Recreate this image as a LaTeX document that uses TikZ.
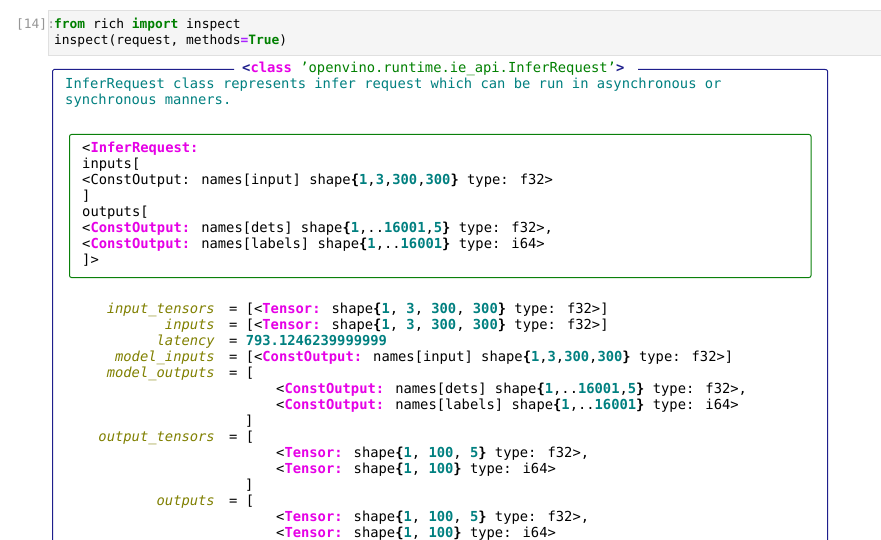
\documentclass[tikz,border=0pt]{standalone}
\usepackage{fontspec}
\setmonofont{DejaVu Sans Mono}
\setmainfont{DejaVu Sans Mono}
\definecolor{mag}{RGB}{230,0,230}
\definecolor{tl}{RGB}{0,128,128}
\definecolor{olv}{RGB}{128,128,0}
\definecolor{gbox}{RGB}{10,128,10}
\definecolor{nbox}{RGB}{30,30,140}
\definecolor{kw}{RGB}{0,128,0}
\definecolor{eqc}{RGB}{170,34,255}
\newcommand{\Mg}[1]{\textcolor{mag}{\bfseries #1}}
\newcommand{\Nm}[1]{\textcolor{tl}{\bfseries #1}}
\newcommand{\Bd}[1]{{\bfseries #1}}
\newcommand{\Lb}[1]{\textcolor{olv}{\itshape #1}}
\begin{document}
\begin{tikzpicture}[x=1pt,y=-1pt,
  otxt/.style={anchor=base west,inner sep=0pt,font=\fontsize{13.8}{16}\selectfont},
  ltxt/.style={anchor=base east,inner sep=0pt,font=\fontsize{13.8}{16}\selectfont},
  ctxt/.style={anchor=base west,inner sep=0pt,font=\fontsize{12.9}{16}\selectfont}]
\useasboundingbox (0,0) rectangle (881,540);
\fill[white] (0,0) rectangle (881,540);
% input cell
\draw[fill={rgb,255:red,245;green,245;blue,245},draw={rgb,255:red,224;green,224;blue,224}] (48,10) rectangle (885,55);
\node[ctxt,text={rgb,255:red,150;green,150;blue,150}] (prompt) at (16,29) {[14]:};
\node[ctxt] (c1) at (54,29) {\textcolor{kw}{\bfseries from} rich \textcolor{kw}{\bfseries import} inspect};
\node[ctxt] (c2) at (54,45) {inspect(request, methods\textcolor{eqc}{\bfseries =}\textcolor{kw}{\bfseries True})};
% outer box
\node[otxt] (title) at (242,73) {\textcolor{nbox}{\bfseries<}\Mg{class} \textcolor{kw}{'openvino.runtime.ie\_api.InferRequest'}\textcolor{nbox}{\bfseries>}};
\draw[nbox,line width=1pt] (234,69.5) -- (54,69.5) to[out=180,in=90] (52.5,71) -- (52.5,545);
\draw[nbox,line width=1pt] (638,69.5) -- (825,69.5) to[out=0,in=90] (827.5,71) -- (827.5,545);
\node[otxt,text=tl] (d1) at (65,89) {InferRequest class represents infer request which can be run in asynchronous or};
\node[otxt,text=tl] (d2) at (65,105) {synchronous manners.};
% green box
\draw[gbox,line width=1pt,rounded corners=2pt] (69.5,134.5) rectangle (811,277.5);
\node[otxt] (g1) at (82,153) {<\Mg{InferRequest:}};
\node[otxt] (g2) at (82,169) {inputs[};
\node[otxt] (g3) at (82,185) {<ConstOutput: names[input] shape\Bd{\{}\Nm{1},\Nm{3},\Nm{300},\Nm{300}\Bd{\}} type: f32>};
\node[otxt] (g4) at (82,201) {]};
\node[otxt] (g5) at (82,217) {outputs[};
\node[otxt] (g6) at (82,233) {<\Mg{ConstOutput:} names[dets] shape\Bd{\{}\Nm{1},..\Nm{16001},\Nm{5}\Bd{\}} type: f32>,};
\node[otxt] (g7) at (82,249) {<\Mg{ConstOutput:} names[labels] shape\Bd{\{}\Nm{1},..\Nm{16001}\Bd{\}} type: i64>};
\node[otxt] (g8) at (82,265) {]>};
% attributes
\node[ltxt] (l1) at (215,313) {\Lb{input\_tensors}};
\node[otxt] (v1) at (229,313) {= [<\Mg{Tensor:} shape\Bd{\{}\Nm{1}, \Nm{3}, \Nm{300}, \Nm{300}\Bd{\}} type: f32>]};
\node[ltxt] (l2) at (215,329) {\Lb{inputs}};
\node[otxt] (v2) at (229,329) {= [<\Mg{Tensor:} shape\Bd{\{}\Nm{1}, \Nm{3}, \Nm{300}, \Nm{300}\Bd{\}} type: f32>]};
\node[ltxt] (l3) at (215,345) {\Lb{latency}};
\node[otxt] (v3) at (229,345) {= \Nm{793.1246239999999}};
\node[ltxt] (l4) at (215,361) {\Lb{model\_inputs}};
\node[otxt] (v4) at (229,361) {= [<\Mg{ConstOutput:} names[input] shape\Bd{\{}\Nm{1},\Nm{3},\Nm{300},\Nm{300}\Bd{\}} type: f32>]};
\node[ltxt] (l5) at (215,377) {\Lb{model\_outputs}};
\node[otxt] (v5) at (229,377) {= [};
\node[otxt] (v6) at (276,393) {<\Mg{ConstOutput:} names[dets] shape\Bd{\{}\Nm{1},..\Nm{16001},\Nm{5}\Bd{\}} type: f32>,};
\node[otxt] (v7) at (276,409) {<\Mg{ConstOutput:} names[labels] shape\Bd{\{}\Nm{1},..\Nm{16001}\Bd{\}} type: i64>};
\node[otxt] (v8) at (245,425) {]};
\node[ltxt] (l6) at (215,441) {\Lb{output\_tensors}};
\node[otxt] (v9) at (229,441) {= [};
\node[otxt] (v10) at (276,457) {<\Mg{Tensor:} shape\Bd{\{}\Nm{1}, \Nm{100}, \Nm{5}\Bd{\}} type: f32>,};
\node[otxt] (v11) at (276,473) {<\Mg{Tensor:} shape\Bd{\{}\Nm{1}, \Nm{100}\Bd{\}} type: i64>};
\node[otxt] (v12) at (245,489) {]};
\node[ltxt] (l7) at (215,505) {\Lb{outputs}};
\node[otxt] (v13) at (229,505) {= [};
\node[otxt] (v14) at (276,521) {<\Mg{Tensor:} shape\Bd{\{}\Nm{1}, \Nm{100}, \Nm{5}\Bd{\}} type: f32>,};
\node[otxt] (v15) at (276,537) {<\Mg{Tensor:} shape\Bd{\{}\Nm{1}, \Nm{100}\Bd{\}} type: i64>};
\end{tikzpicture}
\end{document}
